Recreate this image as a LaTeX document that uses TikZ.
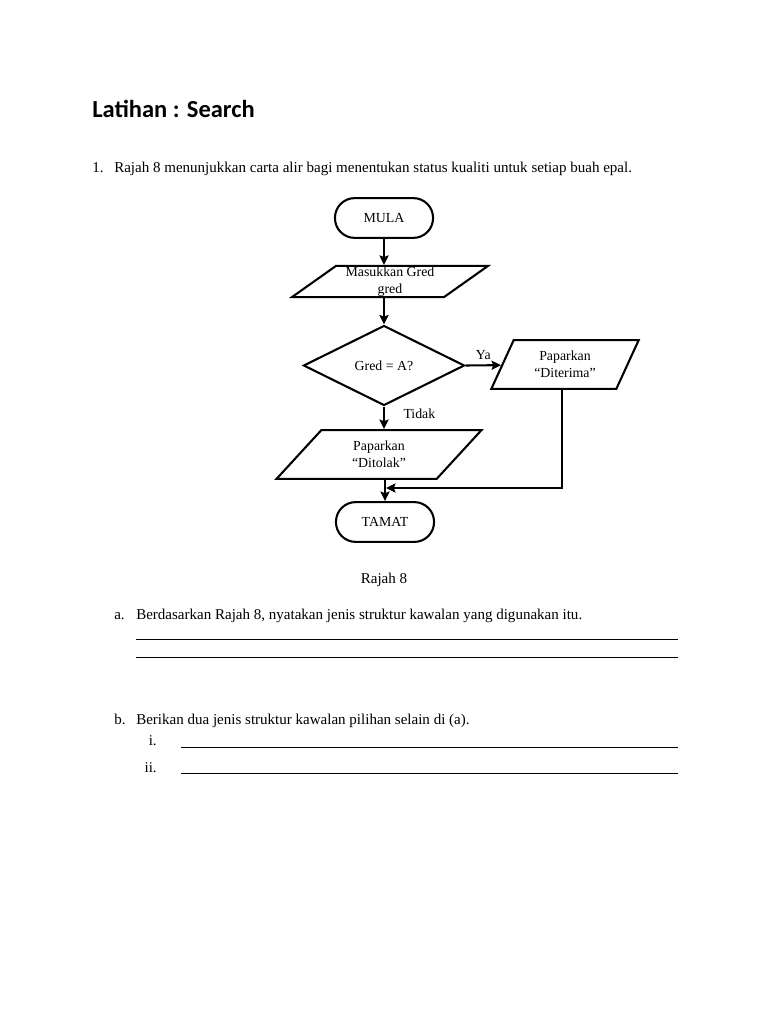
\documentclass[tikz,border=0pt]{standalone}
\usepackage{fontspec}
\setmainfont{Liberation Serif}
\newfontfamily\titlefont{Carlito}
\usetikzlibrary{shapes.geometric, arrows.meta}
\tikzstyle{startstop} = [rectangle, rounded corners=5mm, minimum width=24.9mm, minimum height=10.1mm, text centered, draw=black, line width=1.5pt]
\tikzstyle{io} = [trapezium,
trapezium stretches=true,
trapezium left angle=51.5,
trapezium right angle=128.5,
minimum width=52.3mm,
minimum height=12.4mm,
inner sep=0pt,
align=center,
draw=black,
line width=1.5pt]
\tikzstyle{decision} = [diamond, minimum width=40.9mm, minimum height=20.3mm, inner sep=0pt, text centered, draw=black, line width=1.5pt]
\tikzstyle{arrow} = [line width=1.5pt,->,>={Stealth[length=2.4mm,width=2.3mm,inset=0.4mm]}]
\tikzstyle{txt} = [anchor=base west, inner sep=0pt, font=\fontsize{10.85}{13}\selectfont]
\tikzstyle{answer} = [line width=0.7pt]

\begin{document}
\begin{tikzpicture}[x=0.01in, y=-0.01in, font=\fontsize{10}{12}\selectfont]
\useasboundingbox (0,0) rectangle (768,1024);

\node (title) [txt, font=\titlefont\bfseries\fontsize{17.7}{20}\selectfont] at (92,118) {Latihan : Search};
\node (num1) [txt] at (92,173) {1.};
\node (q1) [txt] at (114,173) {Rajah 8 menunjukkan carta alir bagi menentukan status kualiti untuk setiap buah epal.};

\node (start) [startstop] at (384,218) {MULA};
\node (in1) [io, trapezium left angle=39, trapezium right angle=141, minimum width=49.8mm, minimum height=7.9mm] at (390,281.5) {Masukkan Gred\\gred};
\node (dec1) [decision] at (384,365.5) {Gred = A?};
\node (out1) [io, trapezium left angle=63, trapezium right angle=117, minimum width=37.6mm] at (565,364.5) {Paparkan\\“Diterima”};
\node (out2) [io] at (379,454.5) {Paparkan\\“Ditolak”};
\node (stop) [startstop] at (385,522) {TAMAT};
\coordinate (join) at (386,488);

\draw [arrow] (start.south) -- (start.south |- in1.north);
\draw [arrow] (dec1.north |- in1.south) -- (dec1.north);
\draw [arrow] (dec1.east) -- (out1) node[midway, above] {Ya};
\draw [arrow] (dec1.south) -- (dec1.south |- out2.north) node[pos=0.3, right=10pt] {Tidak};
\draw [arrow] (stop.north |- out2.south) -- (stop.north);
\draw [arrow] ([xshift=-2pt]out1.south) |- (join);

\node (cap) [txt, anchor=base] at (384,583) {Rajah 8};

\node (a) [txt] at (114,619) {a.};
\node (qa) [txt] at (136,619) {Berdasarkan Rajah 8, nyatakan jenis struktur kawalan yang digunakan itu.};
\foreach \y in {639,657}
  \draw [answer] (136,\y) -- (678,\y);

\node (b) [txt] at (114,724) {b.};
\node (qb) [txt] at (136,724) {Berikan dua jenis struktur kawalan pilihan selain di (a).};
\node (bi) [txt, anchor=base east] at (157,745) {i.};
\node (bii) [txt, anchor=base east] at (157,772) {ii.};
\foreach \y in {747,773}
  \draw [answer] (181,\y) -- (678,\y);

\end{tikzpicture}
\end{document}
